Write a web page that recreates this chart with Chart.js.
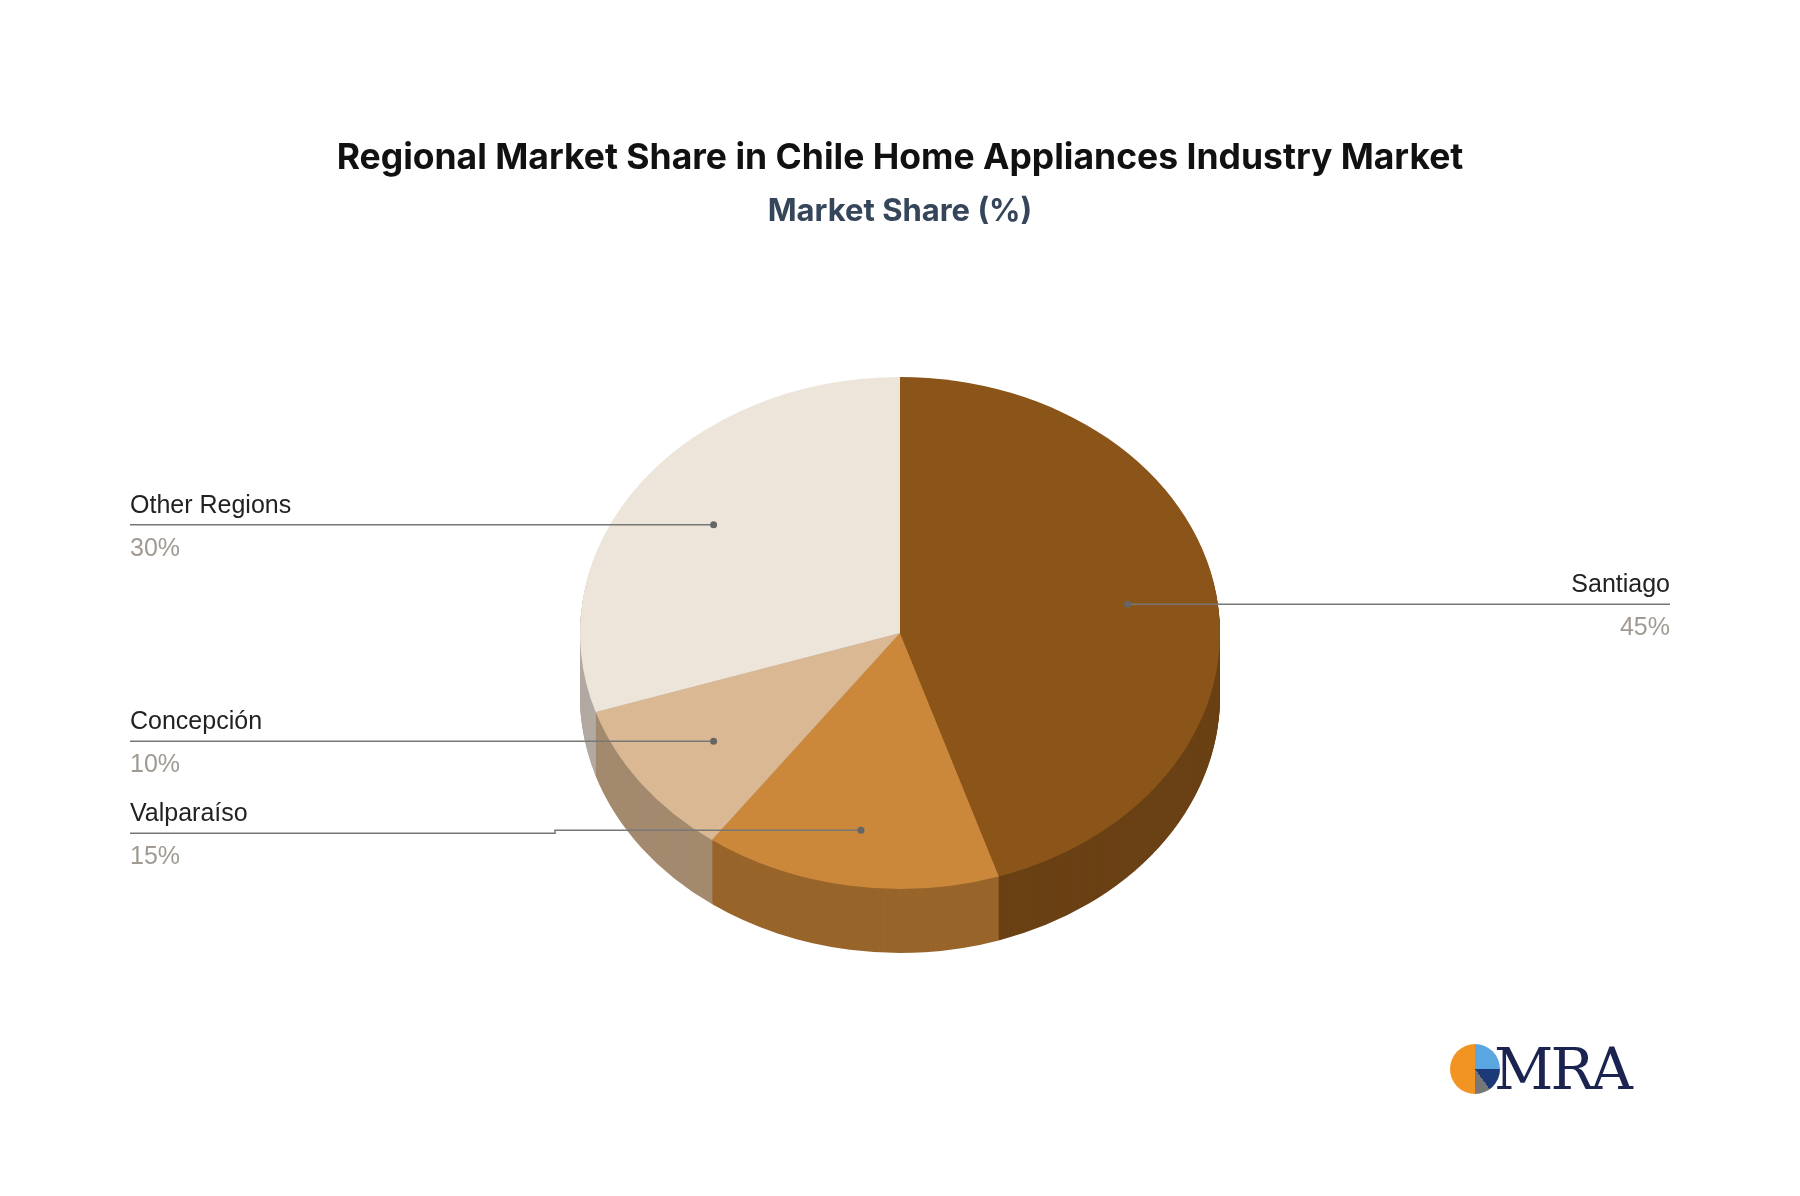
<!DOCTYPE html>
<html>
<head>
<meta charset="utf-8">
<script src="https://cdn.jsdelivr.net/npm/chart.js@4"></script>
<style>
  body { margin: 0; background: #fff; }
  #wrap { position: relative; width: 1800px; height: 1196px; }
  #logo { position: absolute; left: 1450px; top: 1035px; display: flex; align-items: center; }
  #logo .dot { width: 50px; height: 50px; border-radius: 50%; background: conic-gradient(#5aa6e0 0 25%, #1d3a78 25% 40%, #777 40% 50%, #f29422 50% 100%); }
  #logo span { font-family: "DejaVu Serif", serif; font-size: 58px; color: #1b2350; margin-left: -6px; letter-spacing: -3px; }
</style>
</head>
<body>
<div id="wrap">
  <canvas id="c" width="1800" height="1196"></canvas>
  <div id="logo"><div class="dot"></div><span>MRA</span></div>
</div>
<script>
// Data
const regions = ["Santiago", "Valparaíso", "Concepción", "Other Regions"];
const shares = [45, 15, 10, 30];
const topColors = ["#8B5419", "#CB873A", "#D9B893", "#EDE4DA"];
const sideColors = ["#6A4114", "#98652B", "#A38A6E", "#B2AAA2"];

const CX = 900, CY = 633, SQ = 0.8, DEPTH = 64;

function squash(ctx) {
  ctx.translate(CX, CY);
  ctx.scale(1, SQ);
  ctx.translate(-CX, -CY);
}

const tiltPlugin = {
  id: "tilt",
  beforeDatasetsDraw(chart) {
    const ctx = chart.ctx;
    const arcs = chart.getDatasetMeta(0).data;
    ctx.save();
    squash(ctx);
    // extruded side
    for (let d = DEPTH; d > 0; d -= 1) {
      arcs.forEach((a, i) => {
        ctx.beginPath();
        ctx.moveTo(a.x, a.y + d / SQ);
        ctx.arc(a.x, a.y + d / SQ, a.outerRadius, a.startAngle, a.endAngle);
        ctx.closePath();
        ctx.fillStyle = sideColors[i];
        ctx.fill();
      });
    }
  },
  afterDatasetsDraw(chart) {
    chart.ctx.restore();
  },
  afterDraw(chart) {
    const ctx = chart.ctx;
    const arcs = chart.getDatasetMeta(0).data;
    ctx.save();
    ctx.textAlign = "center";
    ctx.fillStyle = "#111";
    ctx.font = "bold 35.5px Inter, 'Noto Sans', sans-serif";
    ctx.fillText("Regional Market Share in Chile Home Appliances Industry Market", 900, 169);
    ctx.fillStyle = "#36465a";
    ctx.font = "bold 31px Inter, 'Noto Sans', sans-serif";
    ctx.fillText("Market Share (%)", 900, 221);

    arcs.forEach((a, i) => {
      const mid = (a.startAngle + a.endAngle) / 2;
      const f = i === 1 ? 0.78 : 0.72;
      const ax = a.x + Math.cos(mid) * a.outerRadius * f;
      const ay = CY + Math.sin(mid) * a.outerRadius * f * SQ;
      const right = Math.cos(mid) > 0;
      const ex = right ? 1670 : 130;
      const ly = i === 1 ? ay + 3 : ay;
      ctx.strokeStyle = "#777";
      ctx.lineWidth = 1.5;
      ctx.beginPath();
      ctx.moveTo(ax, ay);
      if (i === 1) { ctx.lineTo(555, ay); ctx.lineTo(555, ly); }
      ctx.lineTo(ex, ly);
      ctx.stroke();
      ctx.fillStyle = "#666";
      ctx.beginPath();
      ctx.arc(ax, ay, 3.5, 0, Math.PI * 2);
      ctx.fill();
      ctx.textAlign = right ? "right" : "left";
      ctx.font = "25px 'Liberation Sans', Arial, sans-serif";
      ctx.fillStyle = "#222";
      ctx.fillText(regions[i], ex, ly - 12);
      ctx.fillStyle = "#a09a92";
      ctx.fillText(shares[i] + "%", ex, ly + 31);
    });
    ctx.restore();
  }
};

new Chart(document.getElementById("c"), {
  type: "pie",
  data: {
    labels: regions,
    datasets: [{ data: shares, backgroundColor: topColors, borderWidth: 0 }]
  },
  options: {
    responsive: false,
    animation: false,
    layout: { padding: { top: CY - 320, bottom: 1196 - CY - 320, left: 580, right: 580 } },
    plugins: { legend: { display: false }, tooltip: { enabled: false } }
  },
  plugins: [tiltPlugin]
});
</script>
</body>
</html>
